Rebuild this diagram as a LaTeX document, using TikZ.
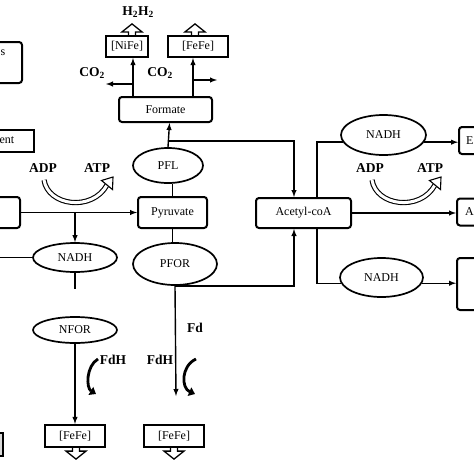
\documentclass[tikz,border=0pt]{standalone}
\usepackage{fontspec}
\setmainfont{Liberation Serif}
\usetikzlibrary{arrows,arrows.meta}
\usetikzlibrary{shapes.geometric}
\usetikzlibrary{calc}
\tikzset{>=latex}
\tikzset{
  box/.style={draw,line width=2pt,rounded corners=3pt,fill=white,inner sep=2pt},
  enzbox/.style={draw,line width=2.2pt,fill=white,inner sep=2pt},
  enzyme/.style={draw,ellipse,line width=1.7pt,inner sep=0pt,fill=white},
  flow/.style={line width=1.4pt},
  cofactor/.style={font=\bfseries\fontsize{13.5}{15}\selectfont}}
\newcommand\hollowArrow[2]{
  \draw[fill=white,line width=1.3pt,shift={(#1)},yscale=#2]
    (-3.5,0) -- (-3.5,-3) -- (-10,-3) -- (0,-11) -- (10,-3) -- (3.5,-3) -- (3.5,0);
}
\newcommand\atpArrow[1]{
  \draw[line width=1.1pt,double=white,double distance=3pt,shift={(#1)}]
    (0,0) .. controls (4,26) and (48,32) .. (63,5);
  \draw[fill=white,line width=1.1pt,shift={(#1)}]
    (68.5,9.5) -- (69,-3) -- (57.5,0.5) -- cycle;
}

\begin{document}
\begin{tikzpicture}[x=1pt,y=-1pt,font=\fontsize{12}{14}\selectfont]
  \useasboundingbox (0,0) rectangle (474,474);
  \clip (0,0) rectangle (474,474);

  % BOXES CUT BY THE LEFT EDGE
  \node[box,minimum width=52,minimum height=41] (topBox) at (-4,62.5) {};
  \node (topTxt) at (3,53) {s};
  \node[enzbox,line width=1.8pt,minimum width=74,minimum height=22] (entBox) at (-3,141) {};
  \node (entTxt) at (7,140) {ent};
  \node[box,minimum width=40,minimum height=31] (srcBox) at (0,212.5) {};
  \node[draw,fill=gray!30,line width=1.8pt,minimum width=24,minimum height=23] (endBox) at (-9,444.5) {};

  % HYDROGENASES
  \node[cofactor] (h2) at (138,12) {H\textsubscript{2}H\textsubscript{2}};
  \node[enzbox,minimum width=42,minimum height=21] (nife) at (127,46.5) {[NiFe]};
  \node[enzbox,minimum width=60,minimum height=21] (fefeT) at (198,46.5) {[FeFe]};
  \node[cofactor] (co2L) at (92,73) {CO\textsubscript{2}};
  \node[cofactor] (co2R) at (160,73) {CO\textsubscript{2}};
  \node[box,minimum width=93,minimum height=25] (formate) at (165.5,109.5) {Formate};

  % PYRUVATE NODE
  \node[enzyme,minimum width=70,minimum height=35] (pfl) at (168,165.5) {PFL};
  \node[box,minimum width=69,minimum height=31] (pyruvate) at (172.5,212.5) {Pyruvate};
  \node[enzyme,minimum width=84,minimum height=42] (pfor) at (175,264) {PFOR};
  \node[enzyme,minimum width=84,minimum height=29] (nadhL) at (75,257.5) {NADH};
  \node[cofactor] (adpL) at (43,168) {ADP};
  \node[cofactor] (atpL) at (97,168) {ATP};

  % ACETYL-COA NODE
  \node[box,minimum width=95,minimum height=30] (acetyl) at (303.5,213) {Acetyl-coA};
  \node[enzyme,minimum width=85,minimum height=40] (nadhE) at (383.5,135) {NADH};
  \node[enzyme,minimum width=83,minimum height=39] (nadhA) at (381.5,277.5) {NADH};
  \node[box,anchor=west,minimum height=27,text width=30pt,inner xsep=7pt] (ethanol) at (458,140.5) {E};
  \node[box,anchor=west,minimum height=27,text width=30pt,inner xsep=8pt] (acetate) at (456,212) {A};
  \node[box,anchor=west,minimum width=40,minimum height=52] (sideBox) at (456,284) {};
  \node[cofactor] (adpR) at (370,168) {ADP};
  \node[cofactor] (atpR) at (430,168) {ATP};

  % FERREDOXIN BRANCH
  \node[enzyme,minimum width=84,minimum height=26] (nfor) at (75,330) {NFOR};
  \node[cofactor] (fd) at (195,328) {Fd};
  \node[cofactor] (fdhL) at (113,360) {FdH};
  \node[cofactor] (fdhR) at (160,360) {FdH};
  \node[enzbox,minimum width=60,minimum height=22] (fefeL) at (75,436) {[FeFe]};
  \node[enzbox,minimum width=60,minimum height=22] (fefeR) at (174,436) {[FeFe]};
  \coordinate (fdEnd) at (176,396);

  % CONNECTORS
  \draw[flow,->] ([xshift=-32.5pt]formate.north) -- ([xshift=-32.5pt]formate.north |- nife.south);
  \draw[flow,->] ([xshift=27.5pt]formate.north) -- ([xshift=27.5pt]formate.north |- fefeT.south);
  \draw[flow,->] ([xshift=-32.5pt]formate.north) ++(0,-12) -- ++(-27,0);
  \draw[flow,->] ([xshift=27.5pt]formate.north) ++(0,-16) -- ++(24,0);
  \hollowArrow{[xshift=5pt]nife.north}{1}
  \hollowArrow{[xshift=-3pt]fefeT.north}{1}
  \draw[flow,->] (pfl.north) -- ([xshift=4pt]formate.south);
  \coordinate (pflTap) at ($(pfl.north)!0.25!([xshift=4pt]formate.south)$);
  \draw[flow,->] (pflTap) -| ([xshift=-9.5pt]acetyl.north);
  \draw[flow] (pyruvate.north) -- (pyruvate.north |- pfl.south);
  \draw[flow] (pyruvate.south) -- (pyruvate.south |- pfor.north);
  \draw[flow,->] (srcBox.east) -- (pyruvate.west);
  \draw[flow,->] (srcBox.east -| nadhL.north) -- (nadhL.north);
  \draw[flow] (nadhL.west) -- ++(-40,0);
  \draw[flow] (nadhL.south) -- ++(0,16);
  \draw[flow,->] (pfor.south) -| ([xshift=-9.5pt]acetyl.south);
  \draw[flow,->] (pfor.south) -- (fdEnd);
  \draw[flow] (nadhE.190) -| ([xshift=13.5pt]acetyl.north);
  \draw[flow] ([xshift=13.5pt]acetyl.south) |- (nadhA.188);
  \draw[flow,->] (nadhE.-10) -- (ethanol.west |- nadhE.-10);
  \draw[flow,->] (acetyl.east) -- (acetate.west |- acetyl.east);
  \draw[flow,->] (nadhA.-8) -- (sideBox.west |- nadhA.-8);
  \draw[flow,->] (nfor.south) -- (fefeL.north);
  \hollowArrow{[xshift=1pt]fefeL.south}{-1}
  \hollowArrow{fefeR.south}{-1}

  % ATP AND FERREDOXIN CYCLES
  \atpArrow{44,180}
  \atpArrow{372,180}
  \draw[line width=2.8pt,-{Triangle[length=6pt,width=9pt]}] (98,359) .. controls (86,366) and (86,388) .. (96,394);
  \draw[line width=2.8pt,-{Triangle[length=6pt,width=9pt]}] (196,359) .. controls (181,366) and (181,388) .. (195,394);
\end{tikzpicture}
\end{document}
